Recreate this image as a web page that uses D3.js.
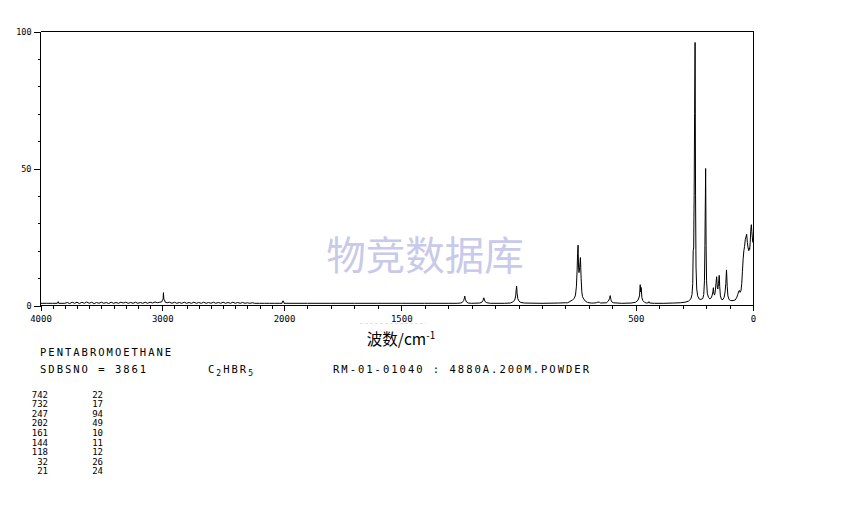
<!DOCTYPE html>
<html>
<head>
<meta charset="utf-8">
<script src="https://cdn.jsdelivr.net/npm/d3@7"></script>
<style>
  html, body { margin: 0; padding: 0; background: #fff; }
  svg { display: block; }
</style>
</head>
<body>
<svg id="chart" width="850" height="510"></svg>
<script>
// ---------- data ----------
const xTickValues = d3.range(4000, -1, -100);
const xTickLabels = [4000, 3000, 2000, 1500, 500, 0];
const yTickValues = d3.range(0, 101, 10);
const yTickLabels = [0, 50, 100];

// spectrum, 4000-2000 cm-1 part: [wavenumber, intensity]
const spectrumHigh = [
  [4000,0.8],[3950,0.8],[3900,0.8],[3862,0.8],[3855,1.4],[3850,0.8],[3800,0.8],
  [3780,1.1],[3760,0.7],[3740,1.2],[3720,0.8],[3700,1.2],[3680,0.7],[3660,1.2],
  [3640,0.8],[3620,1.3],[3600,0.8],[3580,1.2],[3560,0.7],[3540,1.1],[3520,0.8],
  [3500,1.2],[3480,0.8],[3460,1.1],[3440,0.7],[3420,1.2],[3400,0.8],[3380,1.1],
  [3360,0.8],[3340,1.2],[3320,0.9],[3300,1.2],[3280,0.8],[3260,1.1],[3240,0.8],
  [3220,1.2],[3200,0.8],[3180,1.1],[3160,0.8],[3140,1.2],[3120,0.8],[3100,1.2],
  [3080,0.9],[3060,1.3],[3040,1.0],[3020,1.2],[3005,1.3],[2998,2.0],[2993,2.3],
  [2990,4.7],[2987,2.3],[2982,2.0],[2975,1.2],[2960,1.0],[2940,1.2],[2920,0.8],
  [2900,1.2],[2880,0.8],[2860,1.1],[2840,0.8],[2820,1.2],[2800,0.8],[2780,1.1],
  [2760,0.8],[2740,1.2],[2720,0.8],[2700,1.1],[2680,0.8],[2660,1.2],[2640,0.8],
  [2620,1.1],[2600,0.8],[2580,1.2],[2560,0.8],[2540,1.1],[2520,0.8],[2500,1.2],
  [2480,0.8],[2460,1.1],[2440,0.8],[2420,1.2],[2400,0.8],[2380,1.1],[2360,0.8],
  [2340,1.1],[2320,0.8],[2300,1.0],[2280,0.8],[2260,1.0],[2240,0.8],[2200,0.8],
  [2160,0.8],[2120,0.8],[2080,0.8],[2040,0.8],[2016,0.8],[2012,1.6],[2004,1.6],[2000,0.8]
];

// spectrum, 2000-0 cm-1 part: [wavenumber, intensity]
const spectrumLow = [
  [2000,0.8],[1900,0.8],[1800,0.8],[1700,0.8],[1600,0.8],[1500,0.8],[1400,0.8],
  [1300,0.8],[1260,0.8],
  [1248,0.9],[1240,1.1],[1234,1.8],[1231,2.6],[1229,3.4],[1227,2.3],[1225,2.0],
  [1222,1.3],[1215,0.9],[1200,0.8],
  [1165,0.9],[1156,1.2],[1151,1.9],[1148,2.8],[1145,2.0],[1142,1.4],[1135,1.0],
  [1120,0.8],[1060,0.8],
  [1035,0.9],[1024,1.3],[1016,2.0],[1012,3.5],[1010,5.5],[1008,7.0],[1006,4.5],
  [1003,2.5],[998,1.6],[990,1.1],[975,0.9],
  [900,0.8],[830,0.9],[800,1.0],[790,1.0],[780,1.5],[770,2.0],[762,2.6],[757,3.8],
  [753,7],[750,13],[748,19],[746,22],[744,14],[742,12],[739,14],[736,17.5],
  [733,10],[730,5],[727,3.2],[722,2.4],[715,1.6],[705,1.1],[690,0.9],
  [680,0.9],[668,1.0],[665,1.2],[655,1.2],[650,0.9],[625,1.0],[617,1.6],
  [612,2.5],[609,3.6],[606,2.2],[603,1.4],[596,1.0],[560,0.8],
  [520,0.9],[500,1.2],[490,2.0],[484,3.5],[481,7.6],[479,5],[477,6.6],[474,3],
  [470,1.8],[463,1.2],[455,0.9],[446,1.0],[444,1.4],[441,0.9],[420,0.8],
  [380,0.8],[340,0.9],[310,1.0],[290,1.2],[275,1.6],[265,2.4],[260,4],[257,8],
  [255,20],[253,21],[251,40],[249,70],[247,96],[245,40],[243,14],[240,6],
  [236,3.5],[230,2.4],[222,2.2],[214,2.6],[210,4],[207,9],[205,22],[204,32],
  [203,40],[202,50],[200,22],[198,9],[195,4.5],[190,3],[184,2.4],[178,2.8],
  [174,3.8],[171,5],[169,6.5],[167,4.5],[164,3.8],[161,5],[158,8],[155,10.5],
  [152,6.5],[150,6],[147,8],[144,11],[142,7],[139,3.5],[134,2.2],[128,2.2],
  [123,3],[119,5],[116,8],[113,13],[110,7],[107,3.5],[102,2.2],[95,1.8],
  [85,1.8],[76,2.0],[70,2.8],[65,4],[61,5.2],[58,5.5],[55,4.8],[51,5.5],
  [48,8],[45,12.5],[42,17],[39,20],[36,21.5],[33,24],[30,25],[27,26],[24,23],
  [21,21],[18,20],[16,21],[14,20.5],[12,23],[9,28],[7,29.5],[5,27],[3,25],[1,23]
];

// peak table
const peakWn  = [742, 732, 247, 202, 161, 144, 118, 32, 21];
const peakInt = [22, 17, 94, 49, 10, 11, 12, 26, 24];

// ---------- drawing ----------
const svg = d3.select("#chart");
const pL = 40.5, pR = 753.5, pT = 31.5, pB = 305.5;

const x = d3.scaleLinear().domain([4000, 2000, 0]).range([pL, 284, 753]);
const y = d3.scaleLinear().domain([0, 100]).range([pB, pT]);

const mono = "'DejaVu Sans Mono', 'Liberation Mono', monospace";

// watermark
svg.append("text")
  .attr("x", 425).attr("y", 270)
  .attr("text-anchor", "middle")
  .attr("font-family", "'Noto Sans CJK SC', sans-serif")
  .attr("font-size", 39.5)
  .attr("fill", "#c9c9ea")
  .text("物竞数据库");

// frame
const frame = svg.append("g").attr("stroke", "#000").attr("stroke-width", 1)
  .attr("shape-rendering", "crispEdges");
frame.append("line").attr("x1", pL).attr("x2", pR).attr("y1", pT).attr("y2", pT);
frame.append("line").attr("x1", pR).attr("x2", pR).attr("y1", pT).attr("y2", pB);
frame.append("line").attr("x1", pL).attr("x2", pL).attr("y1", pT).attr("y2", pB);
frame.append("line").attr("x1", pL).attr("x2", pR).attr("y1", pB).attr("y2", pB);

// bottom axis
const xAxis = d3.axisBottom(x)
  .tickValues(xTickValues)
  .tickSize(3)
  .tickSizeOuter(0)
  .tickFormat(d => xTickLabels.includes(d) ? d : "");
const gx = svg.append("g").attr("transform", `translate(0,${pB})`).call(xAxis);
gx.select(".domain").remove();
gx.selectAll(".tick line").attr("shape-rendering", "crispEdges")
  .attr("y2", d => xTickLabels.includes(d) ? 5 : 3);
gx.selectAll(".tick text")
  .attr("y", 10).attr("dy", "0.71em")
  .attr("font-family", mono).attr("font-size", 9).attr("fill", "#000");

// left axis
const yAxis = d3.axisLeft(y)
  .tickValues(yTickValues)
  .tickSize(3)
  .tickSizeOuter(0)
  .tickFormat(d => yTickLabels.includes(d) ? d : "");
const gy = svg.append("g").attr("transform", `translate(${pL},0)`).call(yAxis);
gy.select(".domain").remove();
gy.selectAll(".tick line").attr("shape-rendering", "crispEdges")
  .attr("x2", d => yTickLabels.includes(d) ? -7 : -3);
gy.selectAll(".tick text")
  .attr("x", -9)
  .attr("font-family", mono).attr("font-size", 8.5).attr("fill", "#000");

// spectrum
const line = d3.line().x(d => x(d[0])).y(d => y(d[1]));
svg.append("path")
  .datum(spectrumHigh.concat(spectrumLow.slice(1)))
  .attr("d", line)
  .attr("fill", "none")
  .attr("stroke", "#000")
  .attr("stroke-width", 1);

// faint line above axis title
svg.append("line")
  .attr("x1", 360).attr("x2", 426).attr("y1", 323.5).attr("y2", 323.5)
  .attr("stroke", "#e2e2e2").attr("stroke-dasharray", "3,2");

// axis title
const title = svg.append("text")
  .attr("x", 401).attr("y", 345)
  .attr("text-anchor", "middle")
  .attr("font-family", "'Noto Sans CJK SC', sans-serif")
  .attr("font-size", 15.5)
  .attr("fill", "#000");
title.append("tspan").text("波数/cm");
title.append("tspan").attr("dy", -6).attr("font-size", 10).text("-1");

// info text
const info = svg.append("g")
  .attr("font-family", mono).attr("font-size", 10.5)
  .attr("letter-spacing", "2px").attr("fill", "#000");
info.append("text").attr("x", 40).attr("y", 356).text("PENTABROMOETHANE");
info.append("text").attr("x", 40).attr("y", 373).text("SDBSNO = 3861");
const formula = info.append("text").attr("x", 208).attr("y", 373);
formula.append("tspan").text("C");
formula.append("tspan").attr("dy", 3).attr("font-size", 8).text("2");
formula.append("tspan").attr("dy", -3).text("HBR");
formula.append("tspan").attr("dy", 3).attr("font-size", 8).text("5");
info.append("text").attr("x", 333).attr("y", 373).text("RM-01-01040 : 4880A.200M.POWDER");

// peak table
const table = svg.append("g")
  .attr("font-family", mono).attr("font-size", 9).attr("fill", "#000");
table.selectAll("text.wn").data(peakWn).join("text")
  .attr("class", "wn")
  .attr("x", 48).attr("y", (d, i) => 397.5 + i * 9.6)
  .attr("text-anchor", "end").text(d => d);
table.selectAll("text.int").data(peakInt).join("text")
  .attr("class", "int")
  .attr("x", 103).attr("y", (d, i) => 397.5 + i * 9.6)
  .attr("text-anchor", "end").text(d => d);
</script>
</body>
</html>
